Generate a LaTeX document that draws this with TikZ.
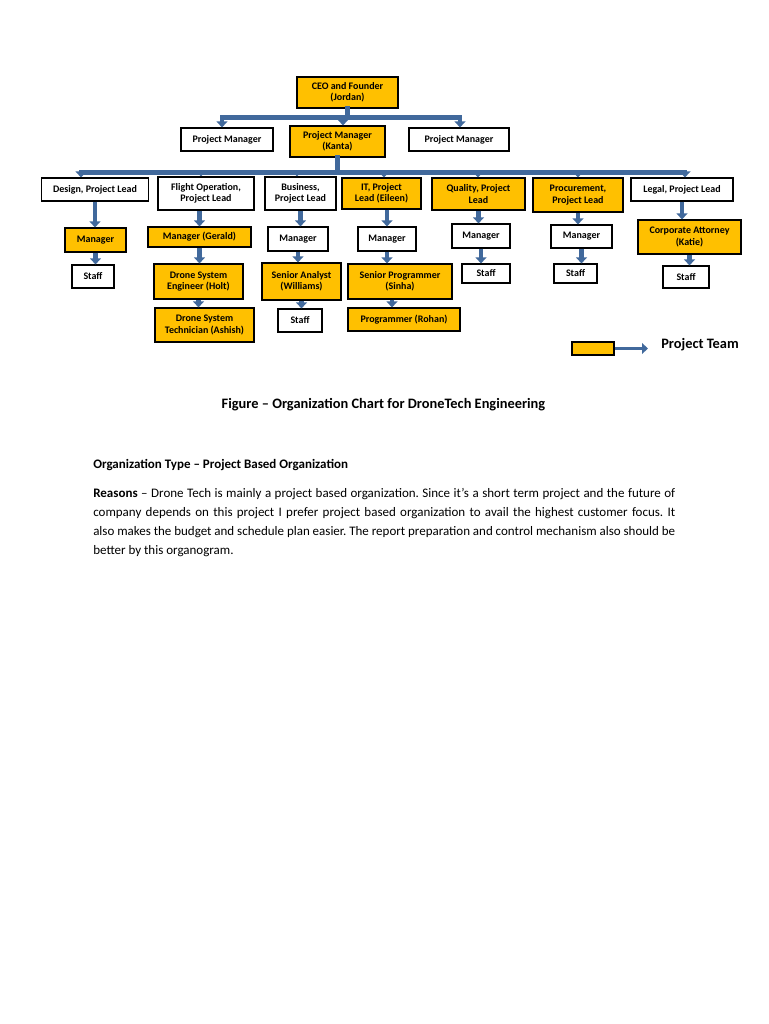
\documentclass[tikz,border=0pt]{standalone}
\usepackage{fontspec}
\setmainfont{Carlito}
\usetikzlibrary{arrows.meta}
\definecolor{teamyellow}{HTML}{FFC000}
\definecolor{linkblue}{HTML}{41699C}

\begin{document}
\begin{tikzpicture}[x=0.75pt, y=-0.75pt,
    box/.style={draw=black, line width=0.8pt, inner sep=1pt, align=center, font=\fontsize{7.5}{8.6}\selectfont\bfseries},
    wbox/.style={box, fill=white},
    ybox/.style={box, fill=teamyellow},
    sz/.style 2 args={minimum width=#1*0.75pt, minimum height=#2*0.75pt},
    link/.style={linkblue, line width=3.2pt, -{Triangle[width=8pt,length=4.5pt]}},
    bar/.style={linkblue, line width=3.6pt, line cap=rect}]

    \useasboundingbox (0,0) rectangle (768,1024);

    % top of the chart
    \node[ybox, sz={101}{31}] (ceo) at (347.5,92.5) {CEO and Founder\\(Jordan)};
    \node[wbox, sz={92}{23}] (pml) at (227,139.5) {Project Manager};
    \node[ybox, sz={95}{31}] (pmk) at (337.5,141.5) {Project Manager\\(Kanta)};
    \node[wbox, sz={100}{23}] (pmr) at (459,139.5) {Project Manager};

    % project leads
    \node[wbox, sz={107}{23}] (design) at (95,189.5) {Design, Project Lead};
    \node[wbox, sz={96}{33}] (flight) at (206,193.5) {Flight Operation,\\Project Lead};
    \node[wbox, sz={71}{33}] (business) at (300.5,193.5) {Business,\\Project Lead};
    \node[ybox, sz={79}{31}] (it) at (381.5,193.5) {IT, Project\\Lead (Eileen)};
    \node[ybox, sz={93}{32}] (quality) at (478.5,194) {Quality, Project\\Lead};
    \node[ybox, sz={90}{34}] (procure) at (578,195) {Procurement,\\Project Lead};
    \node[wbox, sz={102}{23}] (legal) at (682,189.5) {Legal, Project Lead};

    % managers
    \node[ybox, sz={61}{24}] (dman) at (95.5,240) {Manager};
    \node[ybox, sz={103}{20}] (gerald) at (199.5,237) {Manager (Gerald)};
    \node[wbox, sz={60}{24}] (bman) at (298,239) {Manager};
    \node[wbox, sz={58}{24}] (iman) at (387,239) {Manager};
    \node[wbox, sz={58}{24}] (qman) at (481,236) {Manager};
    \node[wbox, sz={61}{23}] (pman) at (581.5,236.5) {Manager};
    \node[ybox, sz={103}{34}] (attorney) at (689.5,237) {Corporate Attorney\\(Katie)};

    % staff and team members
    \node[wbox, sz={42}{23}] (dstaff) at (93,276.5) {Staff};
    \node[ybox, sz={89}{35}] (holt) at (198.5,281.5) {Drone System\\Engineer (Holt)};
    \node[ybox, sz={79}{37}] (williams) at (301.5,281.5) {Senior Analyst\\(Williams)};
    \node[ybox, sz={104}{35}] (sinha) at (400,281.5) {Senior Programmer\\(Sinha)};
    \node[wbox, sz={48}{19}] (qstaff) at (486,273.5) {Staff};
    \node[wbox, sz={43}{19}] (pstaff) at (575.5,273.5) {Staff};
    \node[wbox, sz={46}{22}] (lstaff) at (686,277) {Staff};
    \node[ybox, sz={99}{34}] (ashish) at (204.5,325) {Drone System\\Technician (Ashish)};
    \node[wbox, sz={44}{23}] (bstaff) at (300,320.5) {Staff};
    \node[ybox, sz={112}{23}] (rohan) at (404,319.5) {Programmer (Rohan)};

    % bars
    \coordinate (tl) at (222,117.5);
    \coordinate (tr) at (460,117.5);
    \coordinate (bl) at (81,172.5);
    \coordinate (br) at (685,172.5);
    \draw[bar] (ceo.south) -- (ceo.south |- tl);
    \draw[bar] (tl) -- (tr);
    \draw[link] (tl) -- (tl |- pml.north);
    \draw[link] (343,117.5) -- (343,117.5 |- pmk.north);
    \draw[link] (tr) -- (tr |- pmr.north);
    \draw[bar] (pmk.south) -- (pmk.south |- bl);
    \draw[bar] (bl) -- (br);
    \foreach \x/\n in {81/design,201/flight,297/business,384/it,478/quality,578/procure,685/legal}
        \draw[link] (\x,172.5) -- (\x,172.5 |- \n.north);

    % columns
    \draw[link] (design.south) -- (design.south |- dman.north);
    \draw[link] (dman.south) -- (dman.south |- dstaff.north);
    \draw[link] (gerald.north |- flight.south) -- (gerald.north);
    \draw[link] (gerald.south) -- (gerald.south |- holt.north);
    \draw[link] (holt.south) -- (holt.south |- ashish.north);
    \draw[link] (business.south) -- (business.south |- bman.north);
    \draw[link] (bman.south) -- (bman.south |- williams.north);
    \draw[link] (williams.south) -- (williams.south |- bstaff.north);
    \draw[link] (iman.north |- it.south) -- (iman.north);
    \draw[link] (iman.south) -- (iman.south |- sinha.north);
    \draw[link] ([xshift=-6pt]sinha.south) -- ([xshift=-6pt]sinha.south |- rohan.north);
    \draw[link] (quality.south) -- (quality.south |- qman.north);
    \draw[link] (qman.south) -- (qman.south |- qstaff.north);
    \draw[link] (procure.south) -- (procure.south |- pman.north);
    \draw[link] (pman.south) -- (pman.south |- pstaff.north);
    \draw[link] (legal.south) -- (legal.south |- attorney.north);
    \draw[link] (attorney.south) -- (attorney.south |- lstaff.north);

    % legend
    \node[ybox, sz={42}{13}] (key) at (593,348.5) {};
    \coordinate (keyend) at (648,348.5);
    \draw[link, line width=2.4pt] (key.east) -- (keyend);
    \node[anchor=west, inner sep=0, font=\fontsize{10.8}{12}\selectfont\bfseries] (keylabel) at (661,345) {Project Team};

    % text below
    \node[font=\fontsize{10.8}{13}\selectfont\bfseries] (caption) at (383.5,405) {Figure – Organization Chart for DroneTech Engineering};
    \node[anchor=west, inner sep=0, font=\fontsize{9.75}{12}\selectfont\bfseries] (orgtype) at (93,465) {Organization Type – Project Based Organization};
    \node[anchor=north west, inner sep=0, text width=436.5pt, align=justify, font=\fontsize{9.75}{14.25}\selectfont\frenchspacing] (reasons) at (93,488.5)
        {\textbf{Reasons} – Drone Tech is mainly a project based organization. Since it’s a short term project and the future of\linebreak
        company depends on this project I prefer project based organization to avail the highest customer focus. It\linebreak
        also makes the budget and schedule plan easier. The report preparation and control mechanism also should be\linebreak
        better by this organogram.};
\end{tikzpicture}
\end{document}
